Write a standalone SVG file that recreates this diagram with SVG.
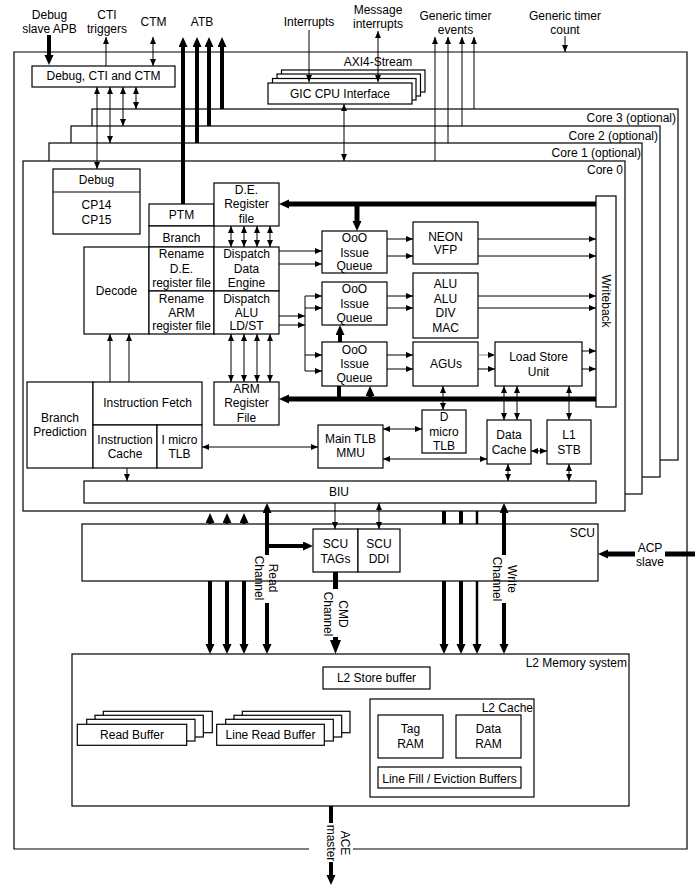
<svg xmlns="http://www.w3.org/2000/svg" width="700" height="895" viewBox="0 0 700 895">
<defs>
<style>
.b{fill:#fff;stroke:#000;stroke-width:1.2}
.n{fill:none;stroke:#000;stroke-width:1.2}
text{font-family:"Liberation Sans",Arial,sans-serif;font-size:12px;fill:#000;text-anchor:middle}
.e{text-anchor:end}
.l{fill:none;stroke:#000;stroke-width:1}
.g{fill:none;stroke:#888;stroke-width:1}
.k3{fill:none;stroke:#000;stroke-width:3}
.k{fill:none;stroke:#000;stroke-width:4}
.k2{fill:none;stroke:#000;stroke-width:2.5}
.kk{fill:none;stroke:#000;stroke-width:5}
.s{marker-end:url(#a)}
.d{marker-start:url(#a);marker-end:url(#a)}
.S{marker-end:url(#A)}
.BB{marker-end:url(#B)}
</style>
<marker id="a" markerUnits="userSpaceOnUse" markerWidth="8" markerHeight="8" refX="7" refY="3" orient="auto-start-reverse"><path d="M0,0L7,3L0,6z" fill="#000"/></marker>
<marker id="A" markerUnits="userSpaceOnUse" markerWidth="11" markerHeight="10" refX="1" refY="4.5" orient="auto"><path d="M0,0L10,4.5L0,9z" fill="#000"/></marker>
<marker id="B" markerUnits="userSpaceOnUse" markerWidth="15" markerHeight="12" refX="1" refY="5.5" orient="auto"><path d="M0,0L14,5.5L0,11z" fill="#000"/></marker>
</defs>
<rect width="700" height="895" fill="#fff"/>

<g id="labels-top">
<text x="49.5" y="19">Debug</text><text x="49.5" y="33">slave APB</text>
<text x="107" y="19">CTI</text><text x="107" y="33">triggers</text>
<text x="153.5" y="26">CTM</text>
<text x="202" y="26">ATB</text>
<text x="309" y="26">Interrupts</text>
<text x="378" y="14">Message</text><text x="378" y="28">interrupts</text>
<text x="455.5" y="20">Generic timer</text><text x="455.5" y="34">events</text>
<text x="565" y="20">Generic timer</text><text x="565" y="34">count</text>
</g>

<g id="outer"><path class="n" d="M309,849H14V52H687V849H353"/></g>

<g id="debug-cti-ctm"><rect class="b" x="32" y="66" width="143" height="21"/><text x="103.5" y="80">Debug, CTI and CTM</text></g>

<g id="gic">
<rect class="b" x="281.5" y="70" width="143.5" height="22"/>
<rect class="b" x="277" y="74" width="143.5" height="22"/>
<rect class="b" x="272.5" y="78.5" width="143.5" height="21.5"/>
<rect class="b" x="268" y="83" width="144" height="21"/>
<text x="340" y="98">GIC CPU Interface</text>
<text x="378" y="65.5">AXI4-Stream</text>
</g>

<g id="core3"><rect class="b" x="92" y="109" width="586" height="351"/><text class="e" x="676" y="122">Core 3 (optional)</text></g>
<g id="core2"><rect class="b" x="71" y="126" width="589" height="351"/><text class="e" x="658" y="139.5">Core 2 (optional)</text></g>
<g id="core1"><rect class="b" x="49" y="143" width="593" height="351"/><text class="e" x="641" y="156.5">Core 1 (optional)</text></g>
<g id="core0"><rect class="b" x="23" y="161" width="602" height="350"/><text class="e" x="623" y="174">Core 0</text></g>

<g id="debug"><rect class="b" x="53" y="169" width="87" height="65"/><path class="n" d="M53,192H140"/>
<text x="96.5" y="184">Debug</text><text x="96.5" y="209">CP14</text><text x="96.5" y="224">CP15</text></g>

<g id="ptm"><rect class="b" x="149" y="204" width="65" height="22"/><text x="181.5" y="219">PTM</text></g>
<g id="branch"><rect class="b" x="149" y="226" width="65" height="21"/><text x="181.5" y="242">Branch</text></g>
<g id="decode"><rect class="b" x="84" y="247" width="65" height="87"/><text x="116.5" y="295">Decode</text></g>
<g id="rename-de"><rect class="b" x="149" y="247" width="65" height="44"/><text x="181.5" y="258">Rename</text><text x="181.5" y="273">D.E.</text><text x="181.5" y="287">register file</text></g>
<g id="rename-arm"><rect class="b" x="149" y="291" width="65" height="43"/><text x="181.5" y="302.5">Rename</text><text x="181.5" y="317">ARM</text><text x="181.5" y="330">register file</text></g>
<g id="de-regfile"><rect class="b" x="214" y="183" width="65" height="43"/><text x="246.5" y="194">D.E.</text><text x="246.5" y="208">Register</text><text x="246.5" y="223">file</text></g>
<g id="dispatch-de"><rect class="b" x="214" y="247" width="65" height="44"/><text x="246.5" y="258">Dispatch</text><text x="246.5" y="273">Data</text><text x="246.5" y="287">Engine</text></g>
<g id="dispatch-alu"><rect class="b" x="214" y="291" width="65" height="43"/><text x="246.5" y="302.5">Dispatch</text><text x="246.5" y="317">ALU</text><text x="246.5" y="330">LD/ST</text></g>

<g id="ooo1"><rect class="b" x="322" y="231" width="65" height="42"/><text x="354.5" y="242">OoO</text><text x="354.5" y="256.5">Issue</text><text x="354.5" y="270">Queue</text></g>
<g id="ooo2"><rect class="b" x="322" y="282" width="65" height="43"/><text x="354.5" y="293">OoO</text><text x="354.5" y="308">Issue</text><text x="354.5" y="322">Queue</text></g>
<g id="ooo3"><rect class="b" x="322" y="342" width="65" height="44"/><text x="354.5" y="354">OoO</text><text x="354.5" y="368">Issue</text><text x="354.5" y="382">Queue</text></g>

<g id="neon"><rect class="b" x="413" y="222" width="65" height="42"/><text x="445.5" y="241">NEON</text><text x="445.5" y="254">VFP</text></g>
<g id="alu"><rect class="b" x="413" y="273" width="65" height="65"/><text x="445.5" y="288">ALU</text><text x="445.5" y="303">ALU</text><text x="445.5" y="317">DIV</text><text x="445.5" y="332">MAC</text></g>
<g id="agus"><rect class="b" x="413" y="342" width="65" height="44"/><text x="446" y="368">AGUs</text></g>
<g id="lsu"><rect class="b" x="495" y="342" width="87" height="44"/><text x="538.5" y="361">Load Store</text><text x="538.5" y="376">Unit</text></g>
<g id="writeback"><rect class="b" x="596" y="196" width="20" height="211"/><text transform="translate(606,301) rotate(90)" y="4">Writeback</text></g>

<g id="arm-regfile"><rect class="b" x="214" y="382" width="65" height="43"/><text x="246.5" y="393">ARM</text><text x="246.5" y="407">Register</text><text x="246.5" y="422">File</text></g>

<g id="branch-pred"><rect class="b" x="27" y="382" width="66" height="86"/><text x="60" y="422">Branch</text><text x="60" y="436">Prediction</text></g>
<g id="ifetch"><rect class="b" x="93" y="382" width="109" height="43"/><text x="147.5" y="407">Instruction Fetch</text></g>
<g id="icache"><rect class="b" x="93" y="425" width="64" height="43"/><text x="125" y="444">Instruction</text><text x="125" y="457.5">Cache</text></g>
<g id="imicrotlb"><rect class="b" x="157" y="425" width="45" height="43"/><text x="179.5" y="444">I micro</text><text x="179.5" y="457.5">TLB</text></g>
<g id="maintlb"><rect class="b" x="318" y="425" width="65" height="43"/><text x="350.5" y="443">Main TLB</text><text x="350.5" y="457">MMU</text></g>
<g id="dmicrotlb"><rect class="b" x="422" y="410" width="44" height="43"/><text x="444" y="421">D</text><text x="444" y="436">micro</text><text x="444" y="450">TLB</text></g>
<g id="dcache"><rect class="b" x="487" y="420" width="44" height="44"/><text x="509" y="439">Data</text><text x="509" y="454">Cache</text></g>
<g id="l1stb"><rect class="b" x="547" y="420" width="44" height="44"/><text x="569" y="439">L1</text><text x="569" y="454">STB</text></g>
<g id="biu"><rect class="b" x="84" y="481" width="512" height="22"/><text x="339" y="496">BIU</text></g>

<g id="scu"><rect class="b" x="82" y="524" width="516" height="57"/><text class="e" x="595" y="537">SCU</text></g>
<g id="scu-tags"><rect class="b" x="313" y="529" width="45" height="43"/><text x="335.5" y="548">SCU</text><text x="335.5" y="562.5">TAGs</text></g>
<g id="scu-ddi"><rect class="b" x="358" y="529" width="42" height="43"/><text x="379" y="548">SCU</text><text x="379" y="562.5">DDI</text></g>
<g id="acp"><text x="650" y="552">ACP</text><text x="650" y="566">slave</text></g>

<g id="l2"><rect class="b" x="72" y="654" width="557" height="152"/><text class="e" x="627" y="667">L2 Memory system</text></g>
<g id="l2-store"><rect class="b" x="323" y="667" width="107" height="22"/><text x="376.5" y="682">L2 Store buffer</text></g>
<g id="read-buffer">
<rect class="b" x="103.3" y="711.3" width="109" height="21.4"/>
<rect class="b" x="95" y="715.3" width="108.3" height="21.7"/>
<rect class="b" x="86.7" y="719.3" width="108.3" height="21.7"/>
<rect class="b" x="77.3" y="724.3" width="109.4" height="21"/>
<text x="132" y="739">Read Buffer</text></g>
<g id="line-read-buffer">
<rect class="b" x="242.3" y="711.3" width="107.7" height="21.4"/>
<rect class="b" x="234" y="715.3" width="107.7" height="21.7"/>
<rect class="b" x="225.7" y="719.3" width="107.6" height="21.7"/>
<rect class="b" x="216.7" y="724.3" width="107.6" height="21"/>
<text x="270.5" y="739">Line Read Buffer</text></g>
<g id="l2-cache"><rect class="b" x="370" y="699" width="164" height="98"/><text class="e" x="533" y="712">L2 Cache</text></g>
<g id="tag-ram"><rect class="b" x="378" y="715" width="65" height="43"/><text x="410.5" y="732.5">Tag</text><text x="410.5" y="748">RAM</text></g>
<g id="data-ram"><rect class="b" x="456" y="715" width="65" height="43"/><text x="488.5" y="732.5">Data</text><text x="488.5" y="748">RAM</text></g>
<g id="linefill"><rect class="b" x="378" y="767" width="143" height="21"/><text x="449.5" y="783">Line Fill / Eviction Buffers</text></g>

<g id="channel-labels">
<text transform="translate(266,578) rotate(90)"><tspan x="0" y="-3">Read</tspan><tspan x="0" y="11">Channel</tspan></text>
<text transform="translate(504.5,579) rotate(90)"><tspan x="0" y="-3">Write</tspan><tspan x="0" y="11.5">Channel</tspan></text>
<text transform="translate(335.5,614) rotate(90)"><tspan x="0" y="-3">CMD</tspan><tspan x="0" y="11.5">Channel</tspan></text>
<text transform="translate(331,843) rotate(90)"><tspan x="0" y="-10">ACE</tspan><tspan x="0" y="4">master</tspan></text>
</g>

<g id="connectors">
<path class="k S" d="M49,35V56"/>
<path class="l s" d="M106,66V37"/>
<path class="l d" d="M153,37V66"/>
<path class="k S" d="M183,204V46"/>
<path class="k S" d="M197,143V46"/>
<path class="k S" d="M209,126V46"/>
<path class="k S" d="M222,109V46"/>
<path class="l s" d="M309,30V82"/>
<path class="l d" d="M378,31V82"/>
<path class="l d" d="M344,104V161"/>
<path class="l s" d="M435,161V37"/>
<path class="l s" d="M448,143V37"/>
<path class="l s" d="M462,126V37"/>
<path class="l s" d="M474,109V37"/>
<path class="l s" d="M565,36V52"/>
<path class="l d" d="M97,87V169"/>
<path class="l d" d="M110,87V143"/>
<path class="l d" d="M123,87V126"/>
<path class="l d" d="M136,87V109"/>

<path class="l d" d="M231,226V247"/>
<path class="l d" d="M244,226V247"/>
<path class="l d" d="M257,226V247"/>
<path class="l d" d="M270,226V247"/>
<path class="l d" d="M231,334V382"/>
<path class="l d" d="M244,334V382"/>
<path class="l d" d="M257,334V382"/>
<path class="l d" d="M270,334V382"/>

<path class="kk S" d="M596,204H288"/>
<path class="kk S" d="M357,204V222"/>
<path class="l s" d="M279,251H322"/>
<path class="l s" d="M279,264H322"/>
<path class="l s" d="M279,316H305"/>
<path class="l s" d="M279,325H305"/>
<path class="l" d="M305,296V371"/>
<path class="l s" d="M305,296H322"/>
<path class="l s" d="M305,308H322"/>
<path class="l s" d="M305,355H322"/>
<path class="l s" d="M305,371H322"/>
<path class="l s" d="M387,239H413"/>
<path class="l s" d="M387,256H413"/>
<path class="l s" d="M387,296H413"/>
<path class="l s" d="M387,308H413"/>
<path class="l s" d="M387,355H413"/>
<path class="l s" d="M387,369H413"/>
<path class="l s" d="M478,239H596"/>
<path class="l s" d="M478,256H596"/>
<path class="l s" d="M478,296H596"/>
<path class="l s" d="M478,308H596"/>
<path class="g s" d="M478,355H495"/>
<path class="l s" d="M478,369H495"/>
<path class="l s" d="M582,351H596"/>
<path class="l s" d="M582,369H596"/>

<path class="kk S" d="M596,399H288"/>
<path class="k" d="M339,386V399"/>
<path class="k S" d="M370,401V395"/>
<path class="k S" d="M340,342V334"/>

<path class="l d" d="M443,386V410"/>
<path class="l d" d="M504,386V420"/>
<path class="l d" d="M517,386V420"/>
<path class="l d" d="M569,386V420"/>
<path class="l d" d="M531,451H547"/>
<path class="l d" d="M508,464V481"/>
<path class="l d" d="M569,464V481"/>
<path class="l d" d="M383,429H422"/>
<path class="l d" d="M383,459H487"/>
<path class="l d" d="M202,447H318"/>
<path class="l s" d="M127,468V481"/>
<path class="l s" d="M110,382V334"/>
<path class="l s" d="M129,382V334"/>

<path class="l s" d="M335,503V529"/>
<path class="l d" d="M379,503V529"/>
<path class="k3 S" d="M210,524V522"/>
<path class="k3 S" d="M227,524V522"/>
<path class="k3 S" d="M244,524V522"/>
<path class="k S" d="M267,555V512"/>
<path class="k S" d="M267,546H304"/>
<path class="k S" d="M267,603V645"/>
<path class="k S" d="M210,581V645"/>
<path class="k S" d="M227,581V645"/>
<path class="k S" d="M244,581V645"/>
<path class="k" d="M444,511V524"/>
<path class="k" d="M461,511V524"/>
<path class="k2" d="M477,511V524"/>
<path class="k S" d="M444,581V645"/>
<path class="k S" d="M461,581V645"/>
<path class="k2 S" d="M477,581V645"/>
<path class="k S" d="M504,555V512"/>
<path class="k S" d="M504,603V645"/>
<path class="kk" d="M335.5,572V589"/>
<path class="kk BB" d="M335.5,637V641"/>
<path class="kk" d="M695,554H665"/>
<path class="kk S" d="M635,554H607"/>
<path class="k" d="M331,806V823"/>
<path class="k S" d="M331,862V876"/>
</g>
</svg>
